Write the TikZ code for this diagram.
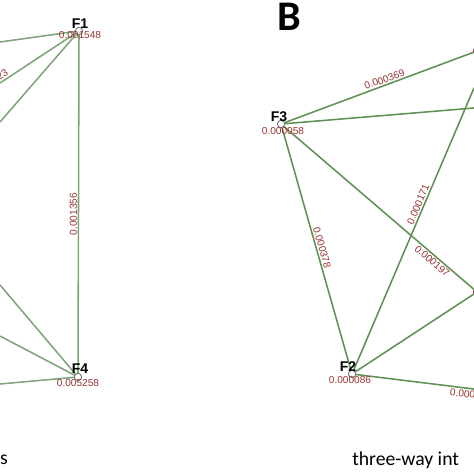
\documentclass[tikz,border=0pt]{standalone}
\usepackage{fontspec}
\setsansfont{Liberation Sans}
\newfontfamily\capfont{Carlito}
\usetikzlibrary{positioning}
\definecolor{edge-left}{RGB}{125,165,120}
\definecolor{edge-right}{RGB}{95,145,85}
\definecolor{val-red}{RGB}{155,50,50}
\definecolor{node-gray}{RGB}{110,110,110}

\begin{document}
\begin{tikzpicture}[
  x=0.025cm, y=-0.025cm,
  fnode/.style={circle, draw=node-gray, fill=white, line width=0.5pt, minimum size=0.18cm, inner sep=0pt},
  enode/.style={circle, draw=val-red, fill=white, line width=0.6pt, minimum size=0.18cm, inner sep=0pt},
  fname/.style={font=\sffamily\bfseries\fontsize{10}{10}\selectfont, inner sep=0pt},
  fval/.style={font=\sffamily\fontsize{7.2}{8}\selectfont, text=val-red, inner sep=0pt},
  wlabel/.style={font=\sffamily\fontsize{7.2}{8}\selectfont, text=val-red, sloped, inner sep=1pt},
  linkA/.style={draw=edge-left, line width=1.1pt},
  linkB/.style={draw=edge-right, line width=1.1pt},
]
  \useasboundingbox (0,0) rectangle (474,474);
  \clip (0,0) rectangle (474,474);

  % panel A (cut at the left edge)
  \node[fnode] (F1) at (79,31) {};
  \node[fnode] (F4) at (78,377) {};
  \coordinate (W1) at (0,42);
  \coordinate (W2) at (0,83);
  \coordinate (W3) at (0,122);
  \coordinate (W4) at (0,285);
  \coordinate (W5) at (0,336);
  \coordinate (W6) at (0,384);

  \draw[linkA] (W1) -- (F1);
  \draw[linkA] (W2) -- node[wlabel, above, pos=0.07] {23} (F1);
  \draw[linkA] (W3) -- (F1);
  \draw[linkA] (F4) -- node[wlabel, above, inner sep=0.5pt, pos=0.47] {0.001356} (F1);
  \draw[linkA] (W4) -- (F4);
  \draw[linkA] (W5) -- (F4);
  \draw[linkA] (W6) -- (F4);

  % panel B
  \node[fnode] (F3) at (281,124) {};
  \node[fnode] (F2) at (352,374) {};
  \node[enode] (N1) at (477,51) {};
  \node[enode] (N2) at (477,292) {};
  \coordinate (E1) at (474,88);
  \coordinate (E2) at (474,108);
  \coordinate (E3) at (474,389);

  \draw[linkB] (F3) -- node[wlabel, above, pos=0.54] {0.000369} (N1);
  \draw[linkB] (F3) -- (E2);
  \draw[linkB] (F3) -- node[wlabel, above, pos=0.50] {0.000378} (F2);
  \draw[linkB] (F3) -- node[wlabel, below, pos=0.80] {0.000197} (N2);
  \draw[linkB] (F2) -- node[wlabel, above, pos=0.58] {0.000171} (E1);
  \draw[linkB] (F2) -- (N2);
  \draw[linkB] (F2) -- node[wlabel, below, pos=0.91] {0.000} (E3);

  \node[fnode] at (F1) {};
  \node[fnode] at (F4) {};
  \node[fnode] at (F3) {};
  \node[fnode] at (F2) {};
  \node[enode] at (N1) {};
  \node[enode] at (N2) {};

  % names and values
  \node[fname] (F1n) at (80,24) {F1};
  \node[fval] (F1v) at (80,35) {0.001548};
  \node[fname] (F4n) at (80,369) {F4};
  \node[fval] (F4v) at (78,383) {0.005258};
  \node[fname] (F3n) at (279,117) {F3};
  \node[fval] (F3v) at (283,131) {0.000058};
  \node[fname] (F2n) at (348,367) {F2};
  \node[fval] (F2v) at (350,380) {0.000086};

  % panel letter and captions
  \node[font=\capfont\bfseries\fontsize{30}{30}\selectfont, inner sep=0pt] (lblB) at (289,17) {B};
  \node[font=\capfont\fontsize{14}{16}\selectfont, anchor=west, inner sep=0pt] (capB) at (352,460) {three-way int};
  \node[font=\capfont\fontsize{14}{16}\selectfont, inner sep=0pt] (capA) at (4,460) {s};
\end{tikzpicture}
\end{document}
